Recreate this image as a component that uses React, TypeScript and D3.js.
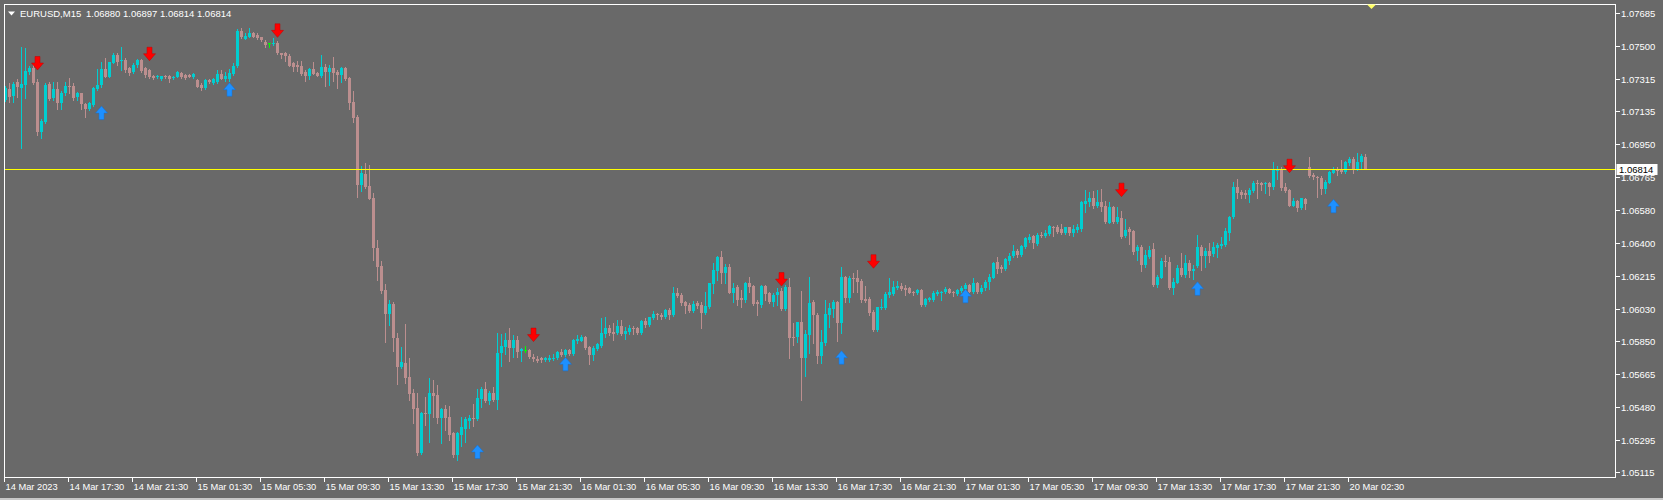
import React from 'react';
import * as d3 from 'd3';

const W = 1663;
const H = 500;

// [open, high, low, close] of each EURUSD M15 bar
const bars: [number, number, number, number][] = [
  [1.07198,1.07276,1.07192,1.07265],[1.07260,1.07293,1.07187,1.07215],[1.07220,1.07299,1.07187,1.07288],[1.07299,1.07316,1.07215,1.07271],
  [1.07265,1.07495,1.06929,1.07288],[1.07282,1.07489,1.07209,1.07360],[1.07357,1.07388,1.07344,1.07379],[1.07379,1.07394,1.07288,1.07295],
  [1.07299,1.07316,1.07002,1.07020],[1.07020,1.07092,1.06983,1.07082],[1.07076,1.07295,1.07069,1.07282],[1.07288,1.07300,1.07198,1.07204],
  [1.07209,1.07300,1.07198,1.07260],[1.07260,1.07300,1.07148,1.07181],[1.07181,1.07248,1.07148,1.07239],[1.07237,1.07300,1.07226,1.07276],
  [1.07276,1.07321,1.07237,1.07271],[1.07276,1.07293,1.07198,1.07209],[1.07215,1.07243,1.07198,1.07237],[1.07237,1.07239,1.07148,1.07176],
  [1.07176,1.07181,1.07105,1.07148],[1.07148,1.07189,1.07142,1.07181],[1.07170,1.07273,1.07164,1.07265],[1.07260,1.07372,1.07254,1.07282],
  [1.07282,1.07413,1.07273,1.07372],[1.07372,1.07433,1.07325,1.07327],[1.07327,1.07413,1.07325,1.07411],[1.07405,1.07461,1.07404,1.07450],
  [1.07450,1.07461,1.07394,1.07411],[1.07416,1.07497,1.07366,1.07422],[1.07422,1.07432,1.07357,1.07366],[1.07377,1.07385,1.07338,1.07349],
  [1.07355,1.07404,1.07348,1.07394],[1.07394,1.07428,1.07385,1.07422],[1.07422,1.07426,1.07357,1.07360],[1.07377,1.07385,1.07329,1.07338],
  [1.07366,1.07370,1.07320,1.07327],[1.07332,1.07338,1.07316,1.07321],[1.07325,1.07338,1.07321,1.07334],[1.07316,1.07334,1.07312,1.07332],
  [1.07334,1.07338,1.07320,1.07325],[1.07334,1.07338,1.07297,1.07316],[1.07320,1.07332,1.07316,1.07329],[1.07329,1.07362,1.07325,1.07357],
  [1.07351,1.07357,1.07321,1.07325],[1.07338,1.07344,1.07316,1.07320],[1.07338,1.07344,1.07325,1.07329],[1.07325,1.07348,1.07321,1.07342],
  [1.07310,1.07316,1.07269,1.07273],[1.07282,1.07292,1.07254,1.07265],[1.07265,1.07316,1.07260,1.07310],[1.07310,1.07316,1.07293,1.07297],
  [1.07292,1.07320,1.07288,1.07314],[1.07300,1.07366,1.07292,1.07344],[1.07344,1.07366,1.07314,1.07316],[1.07314,1.07357,1.07306,1.07332],
  [1.07316,1.07370,1.07306,1.07349],[1.07344,1.07404,1.07338,1.07388],[1.07388,1.07594,1.07385,1.07586],[1.07586,1.07600,1.07544,1.07549],
  [1.07540,1.07571,1.07538,1.07556],[1.07553,1.07600,1.07549,1.07571],[1.07571,1.07581,1.07549,1.07553],[1.07562,1.07571,1.07540,1.07544],
  [1.07549,1.07553,1.07528,1.07534],[1.07525,1.07534,1.07497,1.07506],[1.07516,1.07519,1.07497,1.07516],[1.07512,1.07545,1.07506,1.07517],
  [1.07519,1.07528,1.07456,1.07460],[1.07460,1.07463,1.07432,1.07450],[1.07460,1.07469,1.07418,1.07446],[1.07444,1.07456,1.07388,1.07390],
  [1.07404,1.07413,1.07362,1.07385],[1.07392,1.07418,1.07362,1.07385],[1.07388,1.07418,1.07338,1.07344],[1.07357,1.07366,1.07306,1.07334],
  [1.07334,1.07376,1.07316,1.07372],[1.07372,1.07411,1.07342,1.07344],[1.07351,1.07355,1.07332,1.07334],[1.07334,1.07450,1.07329,1.07385],
  [1.07385,1.07400,1.07278,1.07353],[1.07353,1.07394,1.07282,1.07379],[1.07379,1.07441,1.07306,1.07348],[1.07357,1.07366,1.07267,1.07338],
  [1.07338,1.07385,1.07299,1.07379],[1.07379,1.07385,1.07310,1.07314],[1.07323,1.07329,1.07148,1.07183],[1.07187,1.07250,1.07076,1.07099],
  [1.07105,1.07114,1.06657,1.06722],[1.06722,1.06828,1.06690,1.06788],[1.06784,1.06844,1.06704,1.06713],[1.06716,1.06834,1.06641,1.06644],
  [1.06648,1.06676,1.06302,1.06371],[1.06371,1.06414,1.06190,1.06265],[1.06268,1.06296,1.06116,1.06130],[1.06134,1.06168,1.05841,1.06000],
  [1.06000,1.06078,1.05938,1.06056],[1.06056,1.06067,1.05794,1.05864],[1.05867,1.05892,1.05608,1.05705],[1.05701,1.05817,1.05696,1.05733],
  [1.05727,1.05944,1.05612,1.05640],[1.05649,1.05753,1.05518,1.05552],[1.05559,1.05580,1.05391,1.05466],[1.05475,1.05557,1.05210,1.05220],
  [1.05220,1.05451,1.05216,1.05447],[1.05445,1.05537,1.05378,1.05442],[1.05440,1.05640,1.05285,1.05559],[1.05559,1.05630,1.05425,1.05540],
  [1.05546,1.05602,1.05388,1.05416],[1.05416,1.05475,1.05276,1.05466],[1.05466,1.05490,1.05350,1.05416],[1.05425,1.05484,1.05294,1.05322],
  [1.05335,1.05339,1.05197,1.05210],[1.05210,1.05341,1.05182,1.05332],[1.05322,1.05425,1.05260,1.05365],[1.05354,1.05425,1.05285,1.05410],
  [1.05400,1.05434,1.05360,1.05419],[1.05419,1.05496,1.05372,1.05410],[1.05410,1.05578,1.05406,1.05528],[1.05524,1.05593,1.05477,1.05580],
  [1.05580,1.05617,1.05509,1.05514],[1.05514,1.05570,1.05496,1.05559],[1.05559,1.05593,1.05514,1.05518],[1.05518,1.05895,1.05466,1.05783],
  [1.05780,1.05888,1.05708,1.05820],[1.05817,1.05895,1.05776,1.05854],[1.05854,1.05920,1.05738,1.05811],[1.05811,1.05882,1.05761,1.05854],
  [1.05854,1.05876,1.05757,1.05789],[1.05792,1.05808,1.05738,1.05802],[1.05798,1.05820,1.05789,1.05798],[1.05798,1.05804,1.05752,1.05757],
  [1.05761,1.05774,1.05738,1.05746],[1.05748,1.05764,1.05733,1.05736],[1.05752,1.05761,1.05733,1.05742],[1.05742,1.05757,1.05738,1.05752],
  [1.05742,1.05768,1.05738,1.05752],[1.05746,1.05776,1.05742,1.05752],[1.05752,1.05792,1.05746,1.05789],[1.05789,1.05802,1.05764,1.05770],
  [1.05770,1.05805,1.05766,1.05798],[1.05798,1.05802,1.05770,1.05774],[1.05776,1.05860,1.05770,1.05854],[1.05850,1.05882,1.05839,1.05858],
  [1.05850,1.05880,1.05848,1.05873],[1.05869,1.05876,1.05804,1.05808],[1.05817,1.05820,1.05720,1.05770],[1.05770,1.05820,1.05742,1.05811],
  [1.05804,1.05836,1.05798,1.05830],[1.05822,1.05976,1.05817,1.05892],[1.05888,1.05981,1.05869,1.05923],[1.05923,1.05938,1.05882,1.05895],
  [1.05900,1.05948,1.05854,1.05888],[1.05892,1.05966,1.05888,1.05932],[1.05932,1.05966,1.05882,1.05886],[1.05886,1.05925,1.05860,1.05906],
  [1.05900,1.05938,1.05888,1.05923],[1.05920,1.05932,1.05888,1.05914],[1.05920,1.05927,1.05888,1.05892],[1.05892,1.05966,1.05888,1.05960],
  [1.05960,1.05976,1.05929,1.05938],[1.05938,1.05985,1.05932,1.05981],[1.05979,1.06016,1.05972,1.06000],[1.06000,1.06007,1.05972,1.05994],
  [1.05994,1.06004,1.05972,1.05983],[1.05985,1.06028,1.05979,1.06022],[1.06022,1.06032,1.05972,1.05994],[1.05994,1.06153,1.05988,1.06119],
  [1.06119,1.06144,1.06093,1.06102],[1.06106,1.06116,1.06050,1.06060],[1.06069,1.06074,1.06007,1.06046],[1.06050,1.06060,1.06013,1.06016],
  [1.06016,1.06072,1.06013,1.06056],[1.06060,1.06072,1.06032,1.06046],[1.06050,1.06069,1.05920,1.06004],[1.06004,1.06125,1.06000,1.06046],
  [1.06041,1.06175,1.06032,1.06172],[1.06166,1.06284,1.06119,1.06246],[1.06242,1.06324,1.06190,1.06317],[1.06317,1.06354,1.06172,1.06228],
  [1.06228,1.06280,1.06172,1.06265],[1.06265,1.06280,1.06116,1.06119],[1.06119,1.06172,1.06069,1.06147],[1.06153,1.06162,1.06050,1.06078],
  [1.06088,1.06134,1.06041,1.06078],[1.06078,1.06181,1.06069,1.06172],[1.06175,1.06205,1.06125,1.06153],[1.06156,1.06162,1.06050,1.06056],
  [1.06069,1.06078,1.05994,1.06054],[1.06050,1.06162,1.06037,1.06156],[1.06156,1.06162,1.06078,1.06112],[1.06119,1.06125,1.06063,1.06069],
  [1.06069,1.06116,1.06044,1.06106],[1.06106,1.06144,1.06050,1.06125],[1.06128,1.06144,1.06022,1.06028],[1.06028,1.06162,1.06022,1.06149],
  [1.06149,1.06200,1.05752,1.05867],[1.05873,1.05948,1.05826,1.05867],[1.05869,1.05956,1.05845,1.05953],[1.05953,1.06130,1.05518,1.05755],
  [1.05755,1.05910,1.05654,1.05888],[1.05882,1.06205,1.05780,1.06060],[1.06069,1.06078,1.05836,1.05994],[1.05994,1.06004,1.05724,1.05764],
  [1.05764,1.05910,1.05727,1.05841],[1.05836,1.06078,1.05826,1.05998],[1.05994,1.06060,1.05929,1.06035],[1.06028,1.06078,1.05981,1.06069],
  [1.06069,1.06074,1.05848,1.05951],[1.05951,1.06265,1.05892,1.06209],[1.06209,1.06212,1.06069,1.06088],[1.06088,1.06212,1.06069,1.06200],
  [1.06203,1.06228,1.06125,1.06196],[1.06200,1.06246,1.06125,1.06181],[1.06186,1.06194,1.06069,1.06078],[1.06084,1.06156,1.06069,1.06074],
  [1.06084,1.06097,1.05994,1.06007],[1.06013,1.06022,1.05904,1.05910],[1.05910,1.06041,1.05906,1.06037],[1.06032,1.06084,1.06028,1.06037],
  [1.06032,1.06125,1.06028,1.06112],[1.06106,1.06200,1.06097,1.06121],[1.06112,1.06186,1.06106,1.06153],[1.06144,1.06186,1.06140,1.06158],
  [1.06158,1.06175,1.06134,1.06140],[1.06144,1.06162,1.06106,1.06134],[1.06144,1.06153,1.06116,1.06119],[1.06125,1.06130,1.06106,1.06116],
  [1.06116,1.06138,1.06112,1.06134],[1.06134,1.06138,1.06044,1.06050],[1.06050,1.06088,1.06046,1.06084],[1.06078,1.06095,1.06072,1.06088],
  [1.06078,1.06130,1.06074,1.06119],[1.06112,1.06134,1.06106,1.06125],[1.06116,1.06130,1.06078,1.06125],[1.06121,1.06149,1.06116,1.06138],
  [1.06138,1.06144,1.06116,1.06119],[1.06125,1.06130,1.06100,1.06116],[1.06112,1.06138,1.06108,1.06134],[1.06128,1.06156,1.06125,1.06144],
  [1.06138,1.06172,1.06134,1.06162],[1.06162,1.06166,1.06121,1.06125],[1.06125,1.06200,1.06116,1.06172],[1.06172,1.06177,1.06119,1.06125],
  [1.06125,1.06162,1.06119,1.06147],[1.06144,1.06190,1.06134,1.06181],[1.06177,1.06224,1.06138,1.06209],[1.06203,1.06293,1.06200,1.06287],
  [1.06289,1.06317,1.06231,1.06252],[1.06265,1.06274,1.06237,1.06252],[1.06252,1.06312,1.06246,1.06306],[1.06298,1.06340,1.06280,1.06324],
  [1.06324,1.06386,1.06321,1.06352],[1.06352,1.06364,1.06321,1.06330],[1.06330,1.06386,1.06324,1.06380],[1.06373,1.06429,1.06368,1.06424],
  [1.06414,1.06448,1.06405,1.06429],[1.06436,1.06442,1.06368,1.06399],[1.06392,1.06452,1.06386,1.06442],[1.06442,1.06461,1.06429,1.06436],
  [1.06436,1.06470,1.06433,1.06455],[1.06448,1.06498,1.06442,1.06492],[1.06489,1.06492,1.06436,1.06480],[1.06489,1.06498,1.06452,1.06461],
  [1.06476,1.06504,1.06448,1.06455],[1.06455,1.06489,1.06448,1.06485],[1.06485,1.06489,1.06442,1.06452],[1.06452,1.06498,1.06438,1.06476],
  [1.06470,1.06504,1.06461,1.06489],[1.06476,1.06634,1.06466,1.06629],[1.06616,1.06694,1.06573,1.06634],[1.06625,1.06685,1.06604,1.06651],
  [1.06651,1.06690,1.06592,1.06604],[1.06604,1.06694,1.06601,1.06629],[1.06629,1.06700,1.06578,1.06601],[1.06604,1.06634,1.06511,1.06513],
  [1.06511,1.06625,1.06508,1.06601],[1.06601,1.06604,1.06511,1.06517],[1.06517,1.06597,1.06511,1.06545],[1.06539,1.06578,1.06424,1.06433],
  [1.06436,1.06532,1.06433,1.06470],[1.06474,1.06489,1.06392,1.06461],[1.06466,1.06470,1.06336,1.06349],[1.06354,1.06386,1.06302,1.06377],
  [1.06377,1.06386,1.06242,1.06274],[1.06274,1.06358,1.06265,1.06330],[1.06321,1.06380,1.06312,1.06358],[1.06362,1.06396,1.06156,1.06162],
  [1.06162,1.06218,1.06149,1.06205],[1.06203,1.06312,1.06200,1.06296],[1.06296,1.06330,1.06268,1.06291],[1.06291,1.06317,1.06142,1.06147],
  [1.06147,1.06200,1.06112,1.06181],[1.06175,1.06274,1.06172,1.06256],[1.06256,1.06340,1.06212,1.06218],[1.06218,1.06330,1.06209,1.06284],
  [1.06284,1.06302,1.06205,1.06242],[1.06242,1.06274,1.06194,1.06250],[1.06268,1.06442,1.06265,1.06377],[1.06377,1.06386,1.06246,1.06324],
  [1.06324,1.06368,1.06261,1.06352],[1.06352,1.06396,1.06293,1.06324],[1.06334,1.06401,1.06324,1.06377],[1.06368,1.06396,1.06321,1.06386],
  [1.06380,1.06433,1.06368,1.06392],[1.06386,1.06480,1.06380,1.06466],[1.06455,1.06548,1.06414,1.06545],[1.06541,1.06737,1.06536,1.06713],
  [1.06713,1.06756,1.06648,1.06676],[1.06685,1.06694,1.06648,1.06666],[1.06676,1.06694,1.06648,1.06666],[1.06666,1.06704,1.06629,1.06694],
  [1.06690,1.06746,1.06685,1.06735],[1.06735,1.06750,1.06648,1.06726],[1.06732,1.06741,1.06694,1.06722],[1.06726,1.06741,1.06676,1.06732],
  [1.06732,1.06741,1.06666,1.06713],[1.06713,1.06849,1.06698,1.06806],[1.06800,1.06828,1.06754,1.06806],[1.06810,1.06821,1.06694,1.06704],
  [1.06713,1.06732,1.06685,1.06690],[1.06694,1.06698,1.06604,1.06606],[1.06606,1.06648,1.06604,1.06634],[1.06634,1.06638,1.06578,1.06592],
  [1.06592,1.06651,1.06588,1.06648],[1.06644,1.06648,1.06588,1.06616],[1.06825,1.06881,1.06769,1.06772],[1.06778,1.06788,1.06754,1.06765],
  [1.06769,1.06774,1.06657,1.06760],[1.06763,1.06772,1.06672,1.06700],[1.06700,1.06750,1.06676,1.06741],[1.06735,1.06802,1.06732,1.06797],
  [1.06791,1.06821,1.06788,1.06810],[1.06810,1.06825,1.06778,1.06802],[1.06806,1.06862,1.06788,1.06797],[1.06797,1.06858,1.06788,1.06853],
  [1.06844,1.06881,1.06834,1.06868],[1.06868,1.06881,1.06788,1.06810],[1.06810,1.06903,1.06806,1.06853],[1.06849,1.06896,1.06816,1.06886],
  [1.06880,1.06897,1.06814,1.06814],
];

// sell signals: [bar index, price of the arrow tip]
const sellSignals: [number, number][] = [
  [8, 1.07366], [36, 1.07418], [68, 1.07549], [132, 1.05845],
  [194, 1.06156], [217, 1.06256], [279, 1.06657], [321, 1.06791],
];
// buy signals: [bar index, price of the arrow tip]
const buySignals: [number, number][] = [
  [24, 1.07164], [56, 1.07295], [118, 1.05266], [140, 1.05757],
  [209, 1.05794], [240, 1.06138], [298, 1.06180], [332, 1.06642],
];

const priceTicks = [
  '1.07685', '1.07500', '1.07315', '1.07135', '1.06950', '1.06765', '1.06580', '1.06400',
  '1.06215', '1.06030', '1.05850', '1.05665', '1.05480', '1.05295', '1.05115',
];

const timeLabels = [
  '14 Mar 2023', '14 Mar 17:30', '14 Mar 21:30', '15 Mar 01:30', '15 Mar 05:30', '15 Mar 09:30',
  '15 Mar 13:30', '15 Mar 17:30', '15 Mar 21:30', '16 Mar 01:30', '16 Mar 05:30', '16 Mar 09:30',
  '16 Mar 13:30', '16 Mar 17:30', '16 Mar 21:30', '17 Mar 01:30', '17 Mar 05:30', '17 Mar 09:30',
  '17 Mar 13:30', '17 Mar 17:30', '17 Mar 21:30', '20 Mar 02:30',
];
const barsPerTimeLabel = 16;

const symbol = 'EURUSD,M15';
const lastBar = bars[bars.length - 1];
const bidPrice = 1.06814;
const priceDomain: [number, number] = [1.05084, 1.07733];

const BG = '#696969';
const BULL = '#00CED1';
const BEAR = '#BC8F8F';
const DOJI = '#00FF00';
const FONT = '"Liberation Sans", Arial, sans-serif';

export default function App() {
  const plot = { left: 4.5, right: 1615.5, top: 4.5, bottom: 477.5 };
  const x = d3.scaleLinear().domain([0, 340]).range([5, 1365]);
  const y = d3.scaleLinear().domain(priceDomain).range([plot.bottom, plot.top]);
  const fmt = d3.format('.5f');

  const downArrow = (ax: number, ay: number) =>
    `M${ax - 2.5},${ay - 13.5} L${ax + 2.5},${ay - 13.5} L${ax + 2.5},${ay - 7} L${ax + 6},${ay - 7} L${ax},${ay} L${ax - 6},${ay - 7} L${ax - 2.5},${ay - 7} Z`;
  const upArrow = (ax: number, ay: number) =>
    `M${ax - 2.5},${ay + 13.5} L${ax + 2.5},${ay + 13.5} L${ax + 2.5},${ay + 7} L${ax + 6},${ay + 7} L${ax},${ay} L${ax - 6},${ay + 7} L${ax - 2.5},${ay + 7} Z`;

  const bidY = Math.round(y(bidPrice)) + 0.5;

  return (
    <svg
      width={W}
      height={H}
      style={{ position: 'absolute', left: 0, top: 0, display: 'block' }}
      fontFamily={FONT}
    >
      <rect x={0} y={0} width={W} height={H} fill={BG} />
      <rect x={0} y={H - 2} width={W} height={2} fill="#C8C8C8" />

      {/* candles */}
      <g shapeRendering="crispEdges">
        {bars.map(([o, h, l, c], i) => {
          const cx = Math.round(x(i));
          const color = c > o ? BULL : c < o ? BEAR : DOJI;
          const yo = Math.round(y(o));
          const yc = Math.round(y(c));
          const yh = Math.round(y(h));
          const yl = Math.round(y(l));
          const bTop = Math.min(yo, yc);
          const bH = Math.max(1, Math.abs(yo - yc));
          return (
            <g key={i}>
              <rect x={cx} y={yh} width={1} height={Math.max(1, yl - yh + 1)} fill={color} />
              <rect x={cx - 1} y={bTop} width={3} height={bH} fill={color} />
            </g>
          );
        })}
      </g>

      {/* bid line */}
      <line x1={plot.left} x2={plot.right} y1={bidY} y2={bidY} stroke="#FFFF00" strokeWidth={1} shapeRendering="crispEdges" />

      {/* signal arrows */}
      {sellSignals.map(([i, p]) => (
        <path key={'s' + i} d={downArrow(Math.round(x(i)) + 0.5, y(p))} fill="#FF0000" stroke="#C00000" strokeWidth={0.5} />
      ))}
      {buySignals.map(([i, p]) => (
        <path key={'b' + i} d={upArrow(Math.round(x(i)) + 0.5, y(p))} fill="#1E90FF" stroke="#1470D0" strokeWidth={0.5} />
      ))}

      {/* frame */}
      <rect
        x={plot.left}
        y={plot.top}
        width={plot.right - plot.left}
        height={plot.bottom - plot.top}
        fill="none"
        stroke="#FFFFFF"
        strokeWidth={1}
        shapeRendering="crispEdges"
      />

      {/* price axis */}
      <g fontSize={9.5} fill="#FFFFFF">
        {priceTicks.map((t) => {
          const ty = Math.round(y(+t)) + 0.5;
          return (
            <g key={t}>
              <line x1={plot.right} x2={plot.right + 4} y1={ty} y2={ty} stroke="#FFFFFF" shapeRendering="crispEdges" />
              <text x={1621} y={ty + 3.5}>{t}</text>
            </g>
          );
        })}
      </g>

      {/* bid price marker */}
      <rect x={1616.5} y={bidY - 5.5} width={41} height={11} fill="#FFFFFF" />
      <text x={1619} y={bidY + 3.5} fontSize={9.5} fill="#000000">{fmt(bidPrice)}</text>

      {/* time axis */}
      <g fontSize={9.3} fill="#FFFFFF">
        {timeLabels.map((t, k) => {
          const tx = Math.round(x(k * barsPerTimeLabel)) - 0.5;
          return (
            <g key={t}>
              <line x1={tx} x2={tx} y1={plot.bottom} y2={plot.bottom + 4} stroke="#FFFFFF" shapeRendering="crispEdges" />
              <text x={tx + 1} y={489.5}>{t}</text>
            </g>
          );
        })}
      </g>

      {/* header */}
      <polygon points="8,11.5 15,11.5 11.5,15.5" fill="#FFFFFF" />
      <text x={20} y={16.5} fontSize={9.5} fill="#FFFFFF">{symbol}</text>
      <text x={86} y={16.5} fontSize={9.5} fill="#FFFFFF">
        {lastBar.map((v) => fmt(v)).join(' ')}
      </text>

      {/* chart shift marker */}
      <polygon points="1367,4.5 1376,4.5 1371.5,9" fill="#FFFF66" />
    </svg>
  );
}
